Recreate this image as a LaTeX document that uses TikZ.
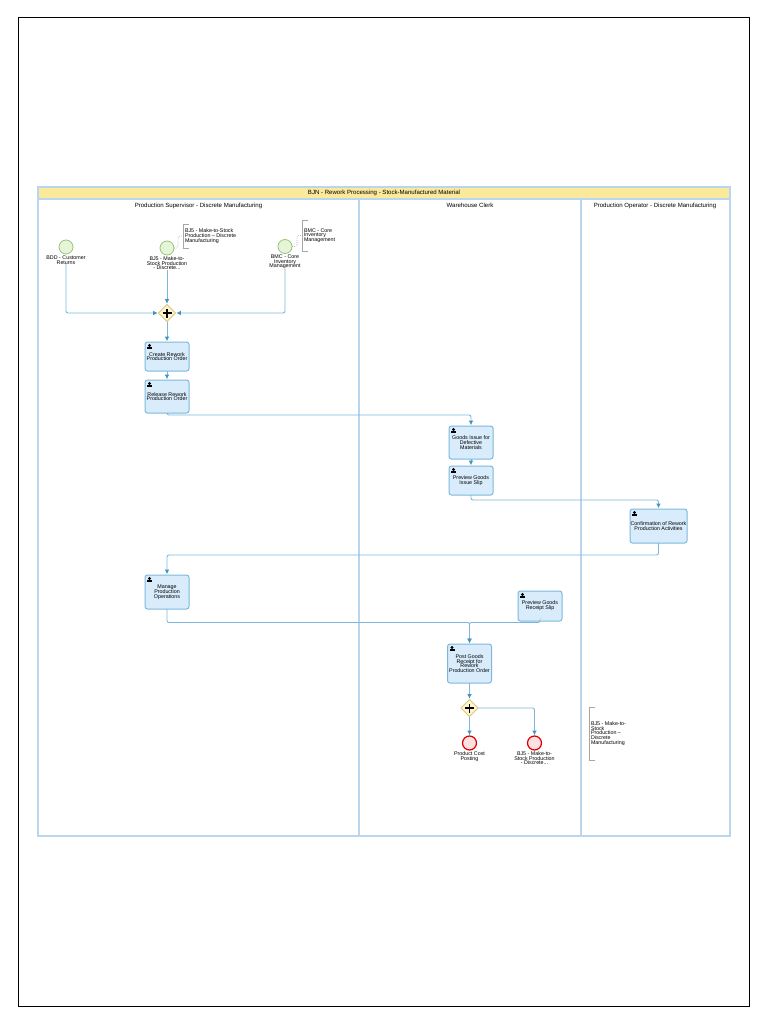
\documentclass[tikz,border=0pt]{standalone}
\usepackage{fontspec}
\setmainfont{Liberation Sans}
\usetikzlibrary{shapes.geometric,arrows.meta,positioning}
\def \tu {0.75pt}
\lineskiplimit=-5pt
\definecolor{lanecol}{HTML}{BAD6EE}
\definecolor{flowcol}{HTML}{7DB8DC}
\definecolor{tipcol}{HTML}{3E94C2}
\definecolor{headcol}{HTML}{FBE99C}
\definecolor{taskcol}{HTML}{D8ECFC}
\definecolor{begcol}{HTML}{E6F5D8}
\definecolor{begline}{HTML}{96C47A}
\definecolor{gatecol}{HTML}{FDF5CF}
\definecolor{gateline}{HTML}{D9C77C}
\tikzset{
  small/.style={font=\fontsize{4.0}{3.6}\selectfont,align=center,inner sep=0pt,outer sep=0pt},
  big/.style={small,font=\fontsize{4.55}{3.6}\selectfont},
  lane/.style={draw=lanecol,line width=1.1*\tu,minimum height=637*\tu,outer sep=0pt},
  head/.style={big,draw=lanecol,fill=headcol,line width=1.1*\tu,minimum width=692*\tu,minimum height=12*\tu},
  task/.style={small,draw=flowcol,fill=taskcol,line width=1*\tu,rounded corners=2.5*\tu,minimum width=44*\tu},
  begev/.style={circle,draw=begline,fill=begcol,line width=0.8*\tu,minimum size=14*\tu,inner sep=0pt,outer sep=0pt},
  endev/.style={circle,draw=red!85!black,fill=red!12,line width=1.2*\tu,minimum size=14*\tu,inner sep=0pt,outer sep=0pt},
  gate/.style={diamond,draw=gateline,fill=gatecol,line width=0.8*\tu,minimum size=17*\tu,inner sep=0pt,outer sep=0pt},
  note/.style={small,align=left,anchor=west,inner xsep=2*\tu},
  flow/.style={color=flowcol,line width=0.9*\tu,rounded corners=2*\tu,shorten >=0.8*\tu,-{Latex[length=4.5*\tu,width=4.5*\tu,color=tipcol]}},
  bracket/.style={draw=gray!70,line width=0.6*\tu},
  assoc/.style={draw=gray!80,line width=0.6*\tu,densely dotted,rounded corners=2*\tu},
}
\begin{document}
\begin{tikzpicture}[x=\tu,y=-\tu,node distance=7*\tu]
    \useasboundingbox (0,0) rectangle (768,1024);
    \draw[black,line width=1*\tu] (18.5,17.5) rectangle (749.5,1006.5);
    % pool
    \node[lane,minimum width=321*\tu] (LA) at (198.5,517.5) {};
    \node[lane,minimum width=222*\tu] (LB) at (470,517.5) {};
    \node[lane,minimum width=149*\tu] (LC) at (655.5,517.5) {};
    \node[head] (title) at (384,193) {BJN - Rework Processing - Stock-Manufactured Material};
    \node[big] (tA) at (198.5,205.5) {Production Supervisor - Discrete Manufacturing};
    \node[big] (tB) at (470,205.5) {Warehouse Clerk};
    \node[big] (tC) at (655,205.5) {Production Operator - Discrete Manufacturing};
    % first lane
    \node[begev] (SA) at (66,247) {};
    \node[begev] (SB) at (167,248) {};
    \node[begev] (SC) at (285,246.5) {};
    \node[small,below=1.5*\tu of SA] (SAt) {BDD - Customer\\Returns};
    \node[small,below=1.5*\tu of SB] (SBt) {BJ5 - Make-to-\\Stock Production\\- Discrete...};
    \node[small,below=1*\tu of SC] (SCt) {BMC - Core\\Inventory\\Management};
    \node[note,minimum height=24*\tu] (NA) at (183,236) {BJ5 - Make-to-Stock\\Production – Discrete\\Manufacturing};
    \node[note,minimum height=31*\tu] (NB) at (302,235.5) {BMC - Core\\Inventory\\Management};
    \node[gate] (GA) at (167,313) {};
    \node[task,minimum height=29*\tu,below=20.5*\tu of GA] (create) {Create Rework\\Production Order};
    \node[task,minimum height=33*\tu,below=9*\tu of create] (release) {Release Rework\\Production Order};
    \node[task,minimum height=34*\tu] (manage) at (167,592) {Manage\\Production\\Operations};
    % second lane
    \node[task,minimum height=33*\tu] (issue) at (471,442.5) {Goods Issue for\\Defective\\Materials};
    \node[task,minimum height=29*\tu,below=of issue] (slip) {Preview Goods\\Issue Slip};
    \node[task,minimum height=30*\tu] (receipt) at (540,606) {Preview Goods\\Receipt Slip};
    \node[task,minimum height=39*\tu] (post) at (469.5,663.5) {Post Goods\\Receipt for\\Rework\\Production Order};
    \node[gate,below=16.5*\tu of post] (GB) {};
    \node[endev,below=19.5*\tu of GB] (EA) {};
    \node[endev,right=51*\tu of EA] (EB) {};
    \node[small,below=1.5*\tu of EA] (EAt) {Product Cost\\Posting};
    \node[small,below=1.5*\tu of EB] (EBt) {BJ5 - Make-to-\\Stock Production\\- Discrete...};
    % third lane
    \node[task,minimum width=57*\tu,minimum height=34*\tu] (confirm) at (658.5,526) {Confirmation of Rework\\Production Activities};
    \node[note,minimum height=53*\tu] (NC) at (589,733.5) {BJ5 - Make-to-\\Stock\\Production –\\Discrete\\Manufacturing};
    % user icons
    \foreach \n in {create,release,manage,issue,slip,receipt,post,confirm} {
      \fill[black] ([xshift=4.5*\tu,yshift=-3.5*\tu]\n.north west) circle (1.6*\tu);
      \fill[black] ([xshift=2*\tu,yshift=-6.8*\tu]\n.north west) rectangle ([xshift=7*\tu,yshift=-5*\tu]\n.north west);
    }
    % gateway plus
    \foreach \n in {GA,GB} {
      \draw[black,line width=1.2*\tu] ([xshift=-4.5*\tu]\n.center) -- ([xshift=4.5*\tu]\n.center);
      \draw[black,line width=1.2*\tu] ([yshift=-4.5*\tu]\n.center) -- ([yshift=4.5*\tu]\n.center);
    }
    % notes
    \foreach \n in {NA,NB,NC}
      \draw[bracket] ([xshift=6*\tu]\n.north west) -- (\n.north west) -- (\n.south west) -- ([xshift=6*\tu]\n.south west);
    \coordinate (bendA) at (178,248);
    \coordinate (bendB) at (297,246.5);
    \draw[assoc] (SB) -- (bendA) |- (NA.west);
    \draw[assoc] (SC) -- (bendB) |- (NB.west);
    % flows
    \coordinate (joinA) at (471,415);
    \coordinate (joinB) at (658.5,500);
    \coordinate (joinC) at (167,555);
    \coordinate (joinD) at (469.5,622.5);
    \draw[flow] (SAt) |- (GA);
    \draw[flow] (SBt) -- (GA);
    \draw[flow] (SCt) |- (GA);
    \draw[flow] (GA) -- (create);
    \draw[flow] (create) -- (release);
    \draw[flow] (release.south) |- (joinA) -- (issue);
    \draw[flow] (issue) -- (slip);
    \draw[flow] (slip.south) |- (joinB) -- (confirm);
    \draw[flow] (confirm.south) |- (joinC) -- (manage);
    \draw[flow] (manage.south) |- (joinD) -- (post);
    \draw[flow] (receipt.south) |- (joinD) -- (post);
    \draw[flow] (post) -- (GB);
    \draw[flow] (GB) -- (EA);
    \draw[flow] (GB) -| (EB);
\end{tikzpicture}
\end{document}
